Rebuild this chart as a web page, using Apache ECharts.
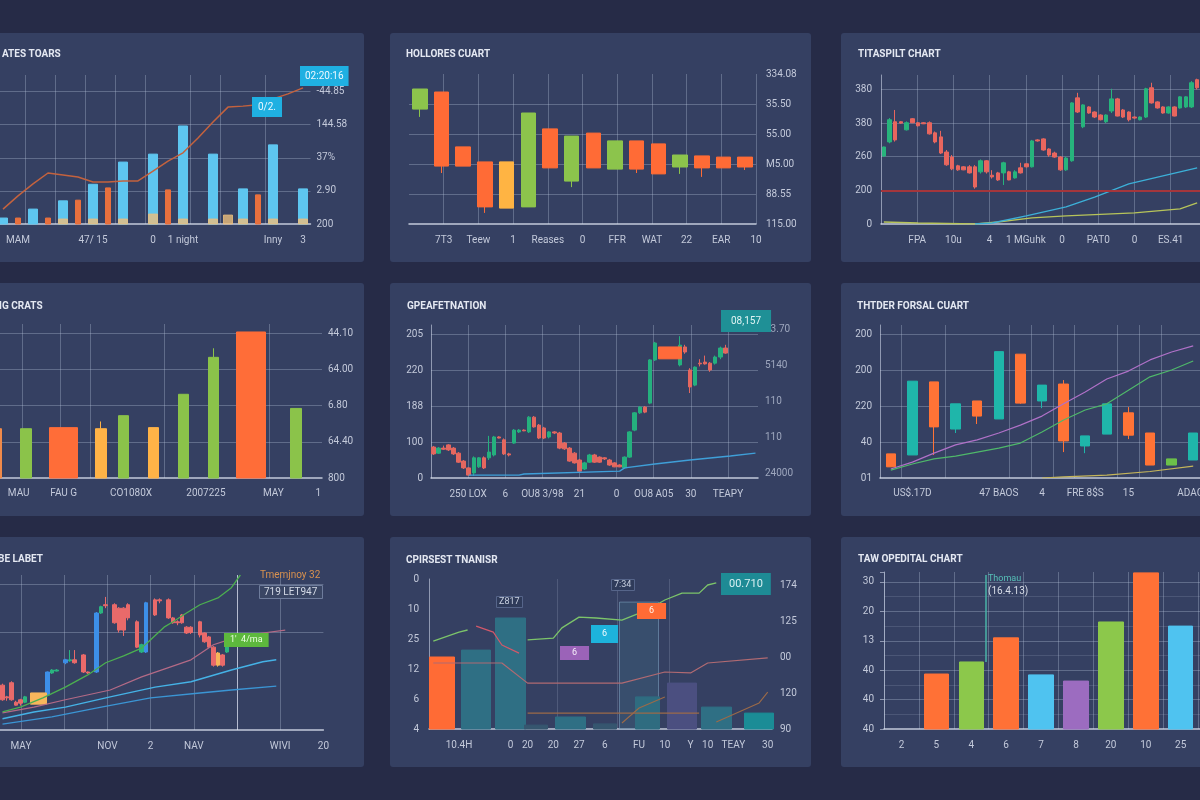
<!DOCTYPE html>
<html>
<head>
<meta charset="utf-8">
<script src="https://cdn.jsdelivr.net/npm/echarts@6/dist/echarts.min.js"></script>
<style>
html,body{margin:0;padding:0;background:#262b47;}
#chart{width:1200px;height:800px;}
</style>
</head>
<body>
<div id="chart"></div>
<script>
// ================= DATA =================
// Panel 1 — "ATES TOARS"
const p1Cats = ['', 'MAM', '', '', '', '', '47/ 15', '', '', '', '0', '', '1 night', '', '', '', '', '', 'Inny', '', '3'];
const p1YLabels = ['200', '2.90', '37%', '144.58', '-44.85'];
const p1Blue = [[0,0.18],[2,0.45],[4,0.70],[6,1.20],[8,1.87],[10,2.11],[12,2.96],[14,2.11],[16,1.06],[18,2.39],[20,1.06]];
const p1Tan = [[4,0.15],[6,0.15],[8,0.15],[10,0.30],[12,0.15],[14,0.15],[15,0.27],[16,0.15],[18,0.15],[20,0.15]];
const p1Orange = [[1,0.18],[3,0.18],[5,0.72],[7,1.09],[11,1.03],[17,0.88]];
const p1Line = [0.45,0.85,1.21,1.54,1.48,1.42,1.27,1.27,1.30,1.30,1.60,1.90,2.15,2.60,3.08,3.53,3.56,3.60,3.78,3.93,4.11];
const p1Notes = ['02:20:16', '0/2.'];

// Panel 2 — "HOLLORES CUART"
const p2XLabels = ['', '7T3', 'Teew', '1', 'Reases', '0', 'FFR', 'WAT', '22', 'EAR', '10'];
const p2YLabels = ['115.00', '88.55', 'M5.00', '55.00', '35.50', '334.08'];
const p2Candles = [
  [3.83,4.50,3.57,4.50],[4.40,1.93,1.70,4.40],[2.57,1.93,1.93,2.57],[2.07,0.57,0.37,2.07],
  null,[0.57,3.70,0.57,3.70],[3.17,1.87,1.87,3.17],[1.43,2.93,1.23,2.93],
  [3.03,1.87,1.87,3.03],[1.83,2.77,1.83,2.77],[2.77,1.83,1.70,2.77],[2.67,1.67,1.67,2.67],
  [1.90,2.30,1.67,2.30],[2.27,1.87,1.57,2.27],[2.23,1.87,1.87,2.23],[2.23,1.90,1.80,2.23]
];
const p2Amber = [[4,2.07,0.53,0.53,2.07]];

// Panel 3 — "TITASPILT CHART"
const p3XLabels = ['', 'FPA', '10u', '4', '1 MGuhk', '0', 'PAT0', '0', 'ES.41'];
const p3YLabels = ['0', '200', '260', '380', '380'];
const p3Candles = [
  [2.02,2.29,2.00,2.30],[2.44,3.10,2.40,3.15],[3.04,2.50,2.45,3.39],[3.04,3.00,2.98,3.06],
  [2.80,3.01,2.78,3.05],[3.13,3.01,3.00,3.15],[3.01,2.92,2.90,3.03],[3.01,2.98,2.97,3.03],
  [3.01,2.68,2.66,3.05],[2.71,2.44,2.40,2.75],[2.59,2.11,2.08,2.77],[2.14,1.76,1.73,2.20],
  [1.99,1.64,1.60,2.05],[1.73,1.61,1.58,1.76],[1.70,1.61,1.60,1.72],[1.70,1.52,1.50,1.75],
  [1.70,1.10,1.05,1.75],[1.55,1.88,1.50,1.92],[1.88,1.55,1.50,1.90],[1.45,1.40,1.35,1.60],
  [1.52,1.31,1.28,1.55],[1.52,1.82,1.16,1.85],[1.55,1.31,1.30,1.58],[1.37,1.55,1.35,1.60],
  [1.67,1.52,1.50,1.82],[1.79,1.70,1.68,1.80],[1.70,2.47,1.68,2.50],[2.50,2.47,2.45,2.52],
  [2.53,2.20,2.18,2.55],[2.23,2.05,2.00,2.25],[2.11,1.99,1.97,2.15],[1.99,1.61,1.58,2.02],
  [1.61,1.96,1.58,2.00],[1.88,3.60,1.85,3.62],[3.75,3.33,3.30,3.90],[2.89,3.54,2.85,3.56],
  [3.48,3.30,3.28,3.50],[3.33,3.18,3.15,3.35],[3.24,3.10,3.08,3.26],[3.04,3.24,3.00,3.26],
  [3.36,3.72,3.30,4.02],[3.72,3.21,3.20,3.75],[3.39,3.18,3.15,3.42],[3.33,3.10,3.05,3.35],
  [3.18,3.15,3.13,3.20],[3.10,3.18,3.08,3.20],[3.18,4.02,3.15,4.05],[4.05,3.60,3.58,4.20],
  [3.63,3.45,3.43,3.65],[3.48,3.30,3.28,3.50],[3.30,3.48,3.28,3.50],[3.48,3.21,3.20,3.50],
  [3.45,3.78,3.43,3.80],[3.48,3.78,3.45,3.80],[3.48,4.20,3.45,4.25],[4.29,4.05,4.00,4.32]
];
const p3Blue = [[16,0],[19,0.03],[25,0.24],[32,0.51],[37,0.80],[43,1.19],[52,1.55],[55,1.67]];
const p3Yellow = [[0,0.06],[6,0.03],[16,0],[20,0.06],[26,0.18],[32,0.24],[44,0.33],[52,0.45],[55,0.63]];
const p3RedLevel = 1;

// Panel 4 — "IG CRATS"
const p4Cats = ['', '', '', 'MAU', '', '', '', '', '', 'FAU G', '', '', '', '', '', '', '', '', 'CO1080X', '', '',
  '', '', '', '', '', '', '', '2007225', '', '', '', '', '', '', '', '', 'MAY', '', '', '', '', '', '1'];
const p4YLabels = ['800', '64.40', '6.80', '64.00', '44.10'];
const p4Edge = [[0,1.36]];
const p4Green = [[4,1.36],[17,1.72],[25,2.31],[29,3.33,3.58],[40,1.92]];
const p4Amber = [[14,1.36,1.56],[21,1.39]];
const p4Orange = [[9,1.39],[34,4.03]];

// Panel 5 — "GPEAFETNATION"
const p5XLabels = ['', '250 LOX', '6', 'OU8 3/98', '21', '0', 'OU8 A05', '30', 'TEAPY'];
const p5LeftLabels = ['0', '100', '188', '220', '205'];
const p5RightLabels = ['24000', '110', '110', '5140', '03.70'];
const p5Candles = [
  [0.86,0.67,0.64,0.89],[0.69,0.83,0.67,0.86],[0.83,0.80,0.78,0.90],[0.92,0.78,0.75,0.94],
  [0.83,0.67,0.64,0.86],[0.69,0.44,0.42,0.72],[0.47,0.28,0.25,0.50],[0.28,0.08,0.06,0.30],
  [0.14,0.56,0.06,0.60],[0.31,0.56,0.28,0.58],[0.56,0.28,0.25,0.60],[0.56,0.72,0.50,1.17],
  [0.64,1.14,0.60,1.17],[1.14,1.11,1.10,1.16],[1.06,0.67,0.64,1.10],[0.67,0.64,0.60,0.70],
  [0.97,1.33,0.95,1.36],[1.28,1.33,1.25,1.36],[1.33,1.31,1.30,1.35],[1.28,1.69,1.25,1.72],
  [1.69,1.42,1.40,1.72],[1.47,1.11,1.08,1.50],[1.39,1.11,1.08,1.42],[1.14,1.28,1.10,1.30],
  [1.28,1.25,1.22,1.30],[1.25,0.83,0.80,1.28],[0.97,0.81,0.78,1.00],[0.83,0.47,0.45,0.86],
  [0.69,0.42,0.40,0.72],[0.50,0.19,0.16,0.53],[0.25,0.42,0.22,0.45],[0.44,0.64,0.42,0.67],
  [0.64,0.44,0.42,0.67],[0.58,0.44,0.42,0.60],[0.56,0.53,0.50,0.58],[0.50,0.36,0.34,0.53],
  [0.42,0.31,0.30,0.44],[0.36,0.31,0.30,0.38],[0.28,0.58,0.26,0.60],[0.58,1.28,0.56,1.30],
  [1.33,1.81,1.30,1.83],[1.81,1.97,1.78,2.00],[1.97,1.83,1.80,2.00],[2.08,3.28,2.05,3.30],
  [3.28,3.75,3.25,3.78],null,null,null,null,
  [3.14,3.69,3.10,3.94],[3.64,3.50,3.45,3.70],[3.00,2.53,2.36,3.05],[2.58,3.08,2.55,3.10],
  [3.19,3.17,3.10,3.30],[3.22,3.17,3.15,3.40],[3.19,3.00,2.95,3.22],[3.19,3.36,3.15,3.40],
  [3.36,3.61,3.30,3.65],[3.61,3.47,3.45,3.70]
];
const p5Block = [[47,3.64,3.31,3.31,3.64]];
const p5Blue = [[7,0.08],[17,0.08],[18,0.11],[37,0.19],[38,0.28],[44,0.39],[51,0.50],[59,0.61],[64,0.69]];
const p5Note = '08,157';

// Panel 6 — "THTDER FORSAL CUART"
const p6Cats = ['', 'US$.17D', '', '', '', '47 BAOS', '', '4', '', 'FRE 8$S', '', '15', '', '', 'ADAGE'];
const p6YLabels = ['01', '40', '220', '200', '200'];
const p6Candles = [
  [0.67,0.31,0.31,0.67],[0.64,2.69,0.64,2.69],[2.67,1.42,0.64,2.67],[1.36,2.06,1.25,2.06],
  [2.14,1.72,1.50,2.14],[1.64,3.51,1.64,3.51],[3.44,2.08,2.06,3.44],[2.14,2.58,1.94,2.58],
  [2.61,1.03,0.72,2.72],[0.89,1.17,0.69,1.17],[1.22,2.06,1.22,2.06],[1.81,1.19,1.08,1.97],
  [1.25,0.36,0.36,1.25],null,[0.50,1.25,0.50,1.25]
];
const p6GreenBox = [[13,0.36,0.53,0.36,0.53]];
const p6Purple = [0.25,0.44,0.69,0.92,1.06,1.25,1.47,1.72,2.06,2.39,2.75,2.97,3.28,3.50,3.67];
const p6Green = [0.22,0.39,0.53,0.61,0.72,0.83,0.97,1.28,1.61,1.89,2.06,2.44,2.81,3.00,3.25];
const p6Yellow = [[7,0],[8,0.03],[10,0.08],[12,0.18],[14,0.33]];

// Panel 7 — "BE LABET"
const p7XLabels = ['', 'MAY', '', 'NOV', '2', 'NAV', '', 'WIVI', '20'];
const p7Candles = [
  [5,0.92,0.62,0.60,0.95],[6,0.68,0.66,0.60,0.70],[7,0.97,0.62,0.60,1.00],[8,0.57,0.51,0.50,0.60],
  [9,0.62,0.55,0.50,0.64],[10,0.57,0.68,0.55,0.70],[16,1.17,1.23,1.15,1.25],[17,1.21,1.23,1.20,1.25],
  [20,1.42,1.44,1.40,1.64],[21,1.44,1.38,1.36,1.64],[23,1.54,1.19,1.17,1.56],[24,1.19,1.17,1.15,1.20],
  [27,2.40,2.53,2.38,2.55],[28,2.57,2.55,2.50,2.73],[30,2.57,2.20,2.18,2.60],[31,2.50,2.05,2.00,2.52],
  [32,2.50,2.05,1.93,2.52],[33,2.57,2.30,2.25,2.60],[35,2.22,1.70,1.68,2.25],[36,1.60,1.75,1.58,1.77],
  [39,2.67,2.36,2.34,2.70],[40,2.67,2.65,2.60,2.70],[42,2.67,2.30,2.28,2.70],[43,2.30,2.20,2.18,2.32],
  [44,2.22,2.20,2.15,2.25],[45,2.36,2.20,2.18,2.38],[46,2.11,1.99,1.97,2.13],[47,2.11,2.00,1.97,2.13],
  [49,2.22,1.95,1.90,2.24],[50,1.99,1.81,1.79,2.00],[51,1.91,1.70,1.68,1.93],[52,1.70,1.33,1.30,1.72],
  [54,1.54,1.33,1.30,1.56],[55,1.60,1.75,1.58,1.77]
];
const p7BlueCandles = [[15,0.72,1.19,0.70,1.20],[19,1.38,1.44,1.35,1.46],[26,1.19,2.40,1.17,2.42],[37,1.60,2.61,1.58,2.63]];
const p7AmberCandles = [[53,1.58,1.33,1.30,1.60]];
const p7AmberBlock = [[13,0.53,0.76,0.53,0.76]];
const p7Green = [[5,0.37],[9,0.47],[14,0.66],[19,0.88],[24,1.13],[28,1.38],[32,1.52],[36,1.68],[38,1.85],[41,2.11],[43,2.22],[46,2.40],[49,2.57],[53,2.71],[56,2.92],[58,3.18]];
const p7Pink = [[5,0.35],[12,0.47],[19,0.62],[29,0.82],[36,1.09],[47,1.44],[52,1.75],[58,1.93],[63,1.99],[68,2.05]];
const p7BlueHi = [[5,0.23],[12,0.37],[19,0.47],[29,0.68],[39,0.88],[47,0.99],[56,1.23],[63,1.40],[66,1.44]];
const p7BlueLo = [[5,0.12],[16,0.27],[27,0.47],[38,0.66],[49,0.76],[56,0.82],[66,0.90]];
const p7Notes = ['Tmemjnoy 32', '719 LET947', "1'  4/ma"];

// Panel 8 — "CPIRSEST TNANISR"
const p8Cats = ['', '', '', '10.4H', '', '', '', '', '', '0', '', '20', '', '', '20', '', '', '27', '', '', '6',
  '', '', '', 'FU', '', '', '10', '', '', 'Y', '', '10', '', '', 'TEAY', '', '', '', '30'];
const p8LeftLabels = ['4', '6', '12', '25', '10', '0'];
const p8RightLabels = ['90', '120', '00', '125', '174'];
const p8Orange = [[1,2.40]];
const p8Teal = [[5,2.63],[9,3.70],[16,0.40],[33,0.73]];
const p8Dim = [[12,0.13],[20,0.17]];
const p8Glass = [[24,4.23]];
const p8Mid = [[25,1.07]];
const p8Purple = [[29,1.53]];
const p8Bright = [[38,0.53]];
const p8GreenA = [[0,2.93],[3,3.23],[4,3.30]];
const p8GreenB = [[11,2.97],[14,3.03],[15,3.37],[17,3.73],[19,3.70],[22,3.63],[25,3.97],[27,4.30],[29,4.53],[31,4.53],[32,4.80],[33,4.87]];
const p8Pink = [[5,3.43],[7,3.23],[8,2.80],[10,2.53]];
const p8Mauve = [[0,2.20],[8,2.20],[11,1.53],[22,1.53],[27,1.90],[30,1.87],[32,2.20],[39,2.37]];
const p8BrownA = [[11,0.53],[31,0.53]];
const p8BrownB = [[22,0.20],[24,0.70],[27,1.07]];
const p8BrownC = [[33,0.23],[38,0.87],[39,1.23]];
const p8Notes = ['Z817', '7:34', '00.710', '6', '6', '6'];

// Panel 9 — "TAW OPEDITAL CHART"
const p9Cats = ['2', '5', '4', '6', '7', '8', '20', '10', '25', ''];
const p9YLabels = ['40', '40', '40', '13', '20', '30'];
const p9Orange = [[1,1.87],[3,3.10],[7,5.31]];
const p9Green = [[2,2.28],[6,3.64]];
const p9Blue = [[4,1.84],[8,3.50]];
const p9Purple = [[5,1.63]];
const p9Notes = ['Thomau', '(16.4.13)'];

const panelTitles = ['ATES TOARS', 'HOLLORES CUART', 'TITASPILT CHART', 'IG CRATS', 'GPEAFETNATION',
  'THTDER FORSAL CUART', 'BE LABET', 'CPIRSEST TNANISR', 'TAW OPEDITAL CHART'];

// ================= BUILD =================
const FONT = 'Roboto';
const LABEL_C = '#c3c9da';
const GRID_C = 'rgba(185,196,222,0.33)';
const GRID_B = 'rgba(225,230,245,0.75)';
const AXIS_C = 'rgba(220,226,240,0.85)';
const PANEL_C = '#354062';

const grids = [], xAxes = [], yAxes = [], series = [], titles = [], graphics = [];

function blank(n) { return Array.from({length: n}, () => ''); }
function fmt(labels, min) {
  return function (v) {
    const r = Math.round(v);
    if (Math.abs(v - r) > 1e-6) return '';
    const s = labels[r - (min || 0)];
    return s == null ? '' : s;
  };
}
function addGrid(l, t, w, h) {
  grids.push({left: l, top: t, width: w, height: h, containLabel: false, outerBoundsMode: 'none', show: false});
  return grids.length - 1;
}
function catX(gi, cats, o) {
  o = o || {};
  const set = o.split;
  xAxes.push({
    type: 'category', gridIndex: gi, data: cats, boundaryGap: true, position: 'bottom', show: o.show !== false,
    axisLine: {show: !!o.line, onZero: false, lineStyle: {color: AXIS_C, width: 1.5}},
    axisTick: {show: false},
    axisLabel: {show: true, interval: 0, hideOverlap: false, color: LABEL_C, fontSize: 10, fontFamily: FONT, margin: o.margin || 11},
    splitLine: {
      show: !!set, showMinLine: true, showMaxLine: false,
      interval: set === 'all' ? 0 : function (i) { return !!set && set.indexOf(i) >= 0; },
      lineStyle: {color: o.splitColor || GRID_C, width: 1}
    }
  });
  return xAxes.length - 1;
}
function valX(gi, min, max, labels, o) {
  o = o || {};
  xAxes.push({
    type: 'value', gridIndex: gi, min: min, max: max, interval: 1, position: 'bottom',
    axisLine: {show: true, onZero: false, lineStyle: {color: AXIS_C, width: 1.5}},
    axisTick: {show: false},
    axisLabel: {show: true, hideOverlap: false, color: LABEL_C, fontSize: 10, fontFamily: FONT, margin: o.margin || 11,
      formatter: fmt(labels, min), showMinLabel: true, showMaxLabel: true},
    splitLine: {show: true, showMinLine: false, showMaxLine: !!o.maxLine, lineStyle: {color: o.splitColors || GRID_C, width: 1}}
  });
  return xAxes.length - 1;
}
function valY(gi, max, labels, o) {
  o = o || {};
  const ax = {
    type: 'value', gridIndex: gi, min: 0, max: max, interval: 1, position: o.pos || 'left',
    axisLine: {show: !!o.line, onZero: false, lineStyle: {color: 'rgba(205,213,232,0.6)', width: 1}},
    axisTick: {show: !!o.tick, length: 4, lineStyle: {color: 'rgba(205,213,232,0.6)'}},
    axisLabel: {show: !!labels, hideOverlap: false, color: o.labelColor || LABEL_C, fontSize: 10, fontFamily: FONT,
      margin: o.margin || 8, verticalAlign: o.va || 'middle', showMinLabel: true, showMaxLabel: true},
    splitLine: {show: o.split !== false, showMinLine: false, showMaxLine: false, lineStyle: {color: o.splitColors || GRID_C, width: 1}},
    minorTick: {show: false, splitNumber: 2},
    minorSplitLine: {show: !!o.minor, lineStyle: {color: 'rgba(185,196,222,0.17)', width: 1}}
  };
  if (labels) ax.axisLabel.formatter = fmt(labels, 0);
  yAxes.push(ax);
  return yAxes.length - 1;
}
function candles(xi, yi, data, w, up, down, extra) {
  series.push(Object.assign({
    type: 'candlestick', xAxisIndex: xi, yAxisIndex: yi, barWidth: w, clip: false, silent: true, large: false,
    encode: {x: 0, y: [1, 2, 3, 4]},
    itemStyle: {color: up, color0: down, borderColor: up, borderColor0: down, borderWidth: 1},
    data: data
  }, extra || {}));
}
function bars(xi, yi, data, w, color, extra) {
  candles(xi, yi, data.map(d => [d[0], 0, d[1], 0, Math.max(d[1], d[2] || 0)]), w, color, color, extra);
}
function line(xi, yi, data, color, width, extra) {
  series.push(Object.assign({
    type: 'line', xAxisIndex: xi, yAxisIndex: yi, data: data, symbol: 'none', silent: true, z: 3,
    lineStyle: {color: color, width: width || 1.3}, itemStyle: {color: color}
  }, extra || {}));
}
function note(text, left, top, st) {
  st = st || {};
  titles.push({
    text: text, left: left, top: top, padding: st.pad || 0,
    backgroundColor: st.bg || 'transparent', borderColor: st.border || 'transparent',
    borderWidth: st.border ? 1 : 0, borderRadius: st.r || 0,
    textStyle: {color: st.color || '#e3e7f1', fontSize: st.size || 10, fontWeight: st.weight || 'normal',
      fontFamily: st.font || FONT, lineHeight: st.lh || 12}
  });
}
function panel(x, y, w, h) {
  graphics.push({type: 'rect', z: -100, silent: true, shape: {x: x, y: y, width: w, height: h, r: 3},
    style: {fill: PANEL_C}});
}

// panel backgrounds
[[-10,33,374,229],[390,33,421,229],[841,33,370,229],
 [-10,283,374,233],[390,283,421,233],[841,283,370,233],
 [-10,537,374,230],[390,537,421,230],[841,537,370,230]].forEach(r => panel(r[0], r[1], r[2], r[3]));

// panel titles
const titlePos = [[2,48],[406,48],[858,48],[-1,300],[407,300],[857,300],[-2,553],[406,554],[858,553]];
panelTitles.forEach((t, i) => note(t, titlePos[i][0], titlePos[i][1], {weight: 'bold', color: '#e4e8f2'}));

// ---------- Panel 1 ----------
const g1 = addGrid(-4.5, 75, 315, 149);
const x1 = catX(g1, p1Cats, {line: true, split: [2,4,6,8,10,13,15,18]});
const y1 = valY(g1, 4.5, p1YLabels, {pos: 'right', margin: 6});
bars(x1, y1, p1Blue, 9, '#5ec6f0');
bars(x1, y1, p1Tan, 9, 'rgba(236,190,125,0.8)');
bars(x1, y1, p1Orange, 5, '#e8703e');
line(x1, y1, p1Line, '#c4623e', 1.5);
note(p1Notes[0], 300, 66, {bg: '#1fb0e2', pad: [4, 5], color: '#eaf8ff'});
note(p1Notes[1], 252, 97, {bg: '#1fb0e2', pad: [4, 6], color: '#eaf8ff'});

// ---------- Panel 2 ----------
const g2 = addGrid(409, 74, 347, 150);
const x2 = catX(g2, blank(p2Candles.length), {show: false});
valX(g2, -1, 9, p2XLabels, {maxLine: true});
const y2 = valY(g2, 5, p2YLabels, {pos: 'right', margin: 10});
candles(x2, y2, p2Candles.map((d, i) => d && [i].concat(d)).filter(Boolean), 15, '#8cc44c', '#ff6b36');
candles(x2, y2, p2Amber, 15, '#ffb443', '#ffb443');

// ---------- Panel 3 ----------
const g3 = addGrid(881, 75, 319, 149);
const x3 = catX(g3, blank(p3Candles.length), {show: false});
valX(g3, 0, 8.81, p3XLabels);
const y3 = valY(g3, 4.43, p3YLabels, {line: true, margin: 9});
line(x3, y3, p3Yellow, '#b7c45a', 1.3);
line(x3, y3, p3Blue, '#3cb0d8', 1.3, {
  markLine: {silent: true, symbol: ['none', 'none'], label: {show: false},
    lineStyle: {color: '#a4363c', width: 2, type: 'solid'}, data: [{yAxis: p3RedLevel}]}
});
candles(x3, y3, p3Candles.map((d, i) => [i].concat(d)), 4, '#27b47c', '#e8665e');

// ---------- Panel 4 ----------
const g4 = addGrid(-7.5, 324, 329.5, 154);
const x4 = catX(g4, p4Cats, {line: true, split: [4,9,13,23,37], margin: 10});
const y4 = valY(g4, 4.25, p4YLabels, {pos: 'right', margin: 6});
bars(x4, y4, p4Edge, 11, '#f08a4a');
bars(x4, y4, p4Green, 11, '#8bc34a');
bars(x4, y4, p4Amber, 11, '#ffb347');
bars(x4, y4, p4Orange, 29, '#ff6d38');

// ---------- Panel 5 ----------
const g5 = addGrid(431, 325, 327, 153);
const x5 = catX(g5, blank(65), {show: false});
valX(g5, 0, 8.81, p5XLabels);
const y5 = valY(g5, 4.25, p5LeftLabels, {line: true, margin: 8});
valY(g5, 4.25, p5RightLabels, {pos: 'right', margin: 7, split: false, labelColor: '#9ea7be', va: 'bottom'});
line(x5, y5, p5Blue, '#3f9fd8', 1.4);
candles(x5, y5, p5Candles.map((d, i) => d && [i].concat(d)).filter(Boolean), 4, '#25b07e', '#e4675f');
candles(x5, y5, p5Block, 23, '#ff6a3a', '#ff6a3a');
note(p5Note, 721, 310, {bg: '#1f9096', pad: [5, 10], color: '#e0f4f4'});

// ---------- Panel 6 ----------
const g6 = addGrid(880, 325, 324, 153);
const x6 = catX(g6, p6Cats, {line: true, split: [1,3,6,7,8,9,11,12,13], margin: 10});
const y6 = valY(g6, 4.25, p6YLabels, {line: true, margin: 8});
candles(x6, y6, p6Candles.map((d, i) => d && [i].concat(d)).filter(Boolean), 10, '#1fb6aa', '#ff7336');
candles(x6, y6, p6GreenBox, 10, '#6cc04a', '#6cc04a');
line(x6, y6, p6Purple, '#b071c8', 1.2);
line(x6, y6, p6Green, '#4fb86a', 1.2);
line(x6, y6, p6Yellow, '#c5b55a', 1.2);

// ---------- Panel 7 ----------
const g7 = addGrid(-22.2, 575, 345.6, 155);
const x7 = catX(g7, blank(77), {show: false});
valX(g7, 0, 8, p7XLabels, {splitColors: [GRID_C, GRID_C, GRID_C, GRID_C, GRID_C, GRID_B, GRID_C]});
const y7 = valY(g7, 3.18, null, {splitColors: ['rgba(0,0,0,0)', GRID_C, GRID_C]});
line(x7, y7, p7BlueLo, '#3b95d4', 1.4);
line(x7, y7, p7BlueHi, '#45b2e6', 1.4);
line(x7, y7, p7Pink, '#b46a86', 1.2);
line(x7, y7, p7Green, '#4caf50', 1.3);
candles(x7, y7, p7Candles, 4, '#2bb37f', '#e96a6a');
candles(x7, y7, p7BlueCandles, 4, '#3d8fe8', '#3d8fe8');
candles(x7, y7, p7AmberCandles, 4, '#f6b45a', '#f6b45a');
candles(x7, y7, p7AmberBlock, 17, '#f7b65c', '#f7b65c');
note(p7Notes[0], 260, 569, {color: '#d8914f'});
note(p7Notes[1], 259, 585, {bg: '#3a4664', border: '#6e7c9c', pad: [1, 5], color: '#d4dae6'});
note(p7Notes[2], 224, 633, {bg: '#5db83d', pad: [1, 6], color: '#eaffe0', size: 9});

// ---------- Panel 8 ----------
const g8 = addGrid(429, 579, 343, 150);
const x8 = catX(g8, p8Cats, {line: true, split: [15,22,28], splitColor: 'rgba(185,196,222,0.2)'});
const y8 = valY(g8, 5, p8LeftLabels, {line: true, split: false, margin: 10});
valY(g8, 4.17, p8RightLabels, {pos: 'right', split: false, margin: 8});
bars(x8, y8, p8Glass, 40, 'rgba(60,95,125,0.45)', {itemStyle: {color: 'rgba(60,95,125,0.45)', borderColor: 'rgba(130,165,195,0.55)', color0: 'rgba(60,95,125,0.45)', borderColor0: 'rgba(130,165,195,0.55)', borderWidth: 1}});
bars(x8, y8, p8Orange, 25, '#ff6b35');
bars(x8, y8, p8Teal, 30, '#2f6f84');
bars(x8, y8, p8Dim, 24, '#36566f');
bars(x8, y8, p8Mid, 25, '#2f6c80');
bars(x8, y8, p8Purple, 30, '#4b4f80');
bars(x8, y8, p8Bright, 29, '#1b8c96');
line(x8, y8, p8BrownA, '#9c6a48', 1.1);
line(x8, y8, p8BrownB, '#9c6a48', 1.1);
line(x8, y8, p8BrownC, '#9c6a48', 1.1);
line(x8, y8, p8Mauve, '#b06a72', 1.2);
line(x8, y8, p8Pink, '#d2586a', 1.2);
line(x8, y8, p8GreenA, '#7cc46a', 1.3);
line(x8, y8, p8GreenB, '#7cc46a', 1.3);
note(p8Notes[0], 496, 596, {bg: '#2f3b5a', border: '#56658a', pad: [0, 3], color: '#c8d0e0', size: 9});
note(p8Notes[1], 611, 579, {bg: '#2f3b5a', border: '#56658a', pad: [0, 3], color: '#c8d0e0', size: 9});
note(p8Notes[2], 721, 573, {bg: '#1e8b95', pad: [5, 8], color: '#d8f0f2', size: 11});
note(p8Notes[3], 637, 603, {bg: '#ff6b35', pad: [2, 12], color: '#fff3ea', size: 9});
note(p8Notes[4], 591, 625, {bg: '#1db3dc', pad: [3, 11], color: '#f0fbff', size: 9});
note(p8Notes[5], 560, 646, {bg: '#9b63b8', pad: [1, 12], color: '#f6eefa', size: 9});

// ---------- Panel 9 ----------
const g9 = addGrid(884, 572, 349, 157);
const x9 = catX(g9, p9Cats, {line: true, split: 'all'});
const y9 = valY(g9, 5.34, p9YLabels, {line: true, tick: true, minor: true, margin: 10,
  labelColor: function (v) { return (v === 2 || v === 5) ? '#7f89a3' : LABEL_C; }});
bars(x9, y9, p9Orange, 25, '#ff7136');
bars(x9, y9, p9Green, 25, '#8cc84b');
bars(x9, y9, p9Blue, 25, '#4fc3f0');
bars(x9, y9, p9Purple, 25, '#9c6cc0');
graphics.push({type: 'line', z: 10, silent: true, shape: {x1: 986, y1: 575, x2: 986, y2: 662},
  style: {stroke: '#4ab3a8', lineWidth: 1.5}});
note(p9Notes[0], 988, 573, {color: '#56c0b8', size: 9});
note(p9Notes[1], 988, 585, {color: '#d8dde8', size: 10});

const chart = echarts.init(document.getElementById('chart'), null, {renderer: 'canvas'});
chart.setOption({
  backgroundColor: '#262b47',
  animation: false,
  textStyle: {fontFamily: FONT},
  graphic: {elements: graphics},
  title: titles,
  grid: grids,
  xAxis: xAxes,
  yAxis: yAxes,
  series: series
});
</script>
</body>
</html>
